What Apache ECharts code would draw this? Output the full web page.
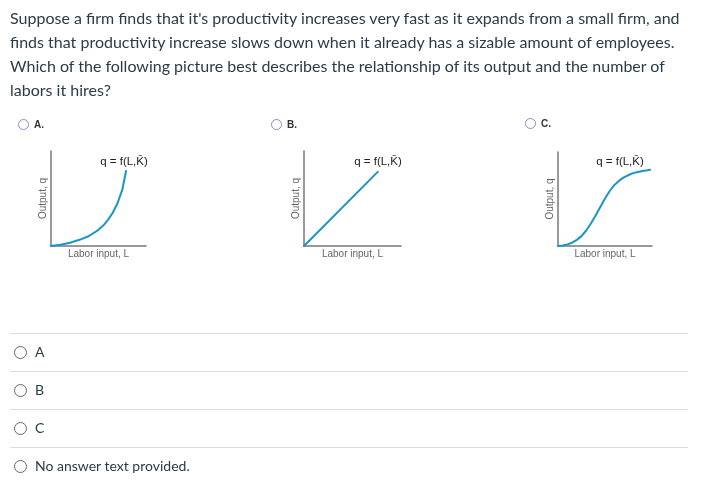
<!DOCTYPE html>
<html>
<head>
<meta charset="utf-8">
<script src="https://cdn.jsdelivr.net/npm/echarts@6/dist/echarts.min.js"></script>
<style>
  html, body { margin:0; padding:0; background:#fff; width:707px; height:493px; overflow:hidden; }
  #chart { position:absolute; left:0; top:0; width:707px; height:493px; }
  .q { position:absolute; left:10px; top:6px; width:697px; font-family:Lato, "Noto Sans", sans-serif; font-size:16px; line-height:24px; color:#2d3b45; }
  .q div { white-space:nowrap; }
  .radio { position:absolute; box-sizing:border-box; border-radius:50%; background:#fff; }
  .top-radio { width:11px; height:11px; border:1.3px solid #8a8ad6; }
  .top-lbl { position:absolute; font-family:Arial, "Liberation Sans", sans-serif; font-size:10px; font-weight:bold; color:#333; }
  .opt-radio { width:13px; height:13px; border:1px solid #666; }
  .opt-lbl { position:absolute; font-family:Lato, "Noto Sans", sans-serif; font-size:14px; color:#2d3b45; line-height:18px; }
  .sep { position:absolute; left:10px; width:678px; height:1px; background:#dcdcdc; }
</style>
</head>
<body>
<div id="chart"></div>
<div class="q">
  <div>Suppose a firm finds that it's productivity increases very fast as it expands from a small firm, and</div>
  <div>finds that productivity increase slows down when it already has a sizable amount of employees.</div>
  <div>Which of the following picture best describes the relationship of its output and the number of</div>
  <div>labors it hires?</div>
</div>

<div class="radio top-radio" style="left:18px;top:119px"></div><div class="top-lbl" style="left:34px;top:119px">A.</div>
<div class="radio top-radio" style="left:271px;top:119px"></div><div class="top-lbl" style="left:287px;top:119px">B.</div>
<div class="radio top-radio" style="left:525px;top:118px"></div><div class="top-lbl" style="left:541px;top:118px">C.</div>

<div class="sep" style="top:333px"></div>
<div class="sep" style="top:371px"></div>
<div class="sep" style="top:409px"></div>
<div class="sep" style="top:447px"></div>

<div class="radio opt-radio" style="left:14px;top:346px"></div><div class="opt-lbl" style="left:35px;top:343px">A</div>
<div class="radio opt-radio" style="left:14px;top:384px"></div><div class="opt-lbl" style="left:35px;top:381px">B</div>
<div class="radio opt-radio" style="left:14px;top:422px"></div><div class="opt-lbl" style="left:35px;top:419px">C</div>
<div class="radio opt-radio" style="left:14px;top:460px"></div><div class="opt-lbl" style="left:35px;top:457px">No answer text provided.</div>

<script>
// Data (axis units 0..100)
const curveA_L = [0, 10, 20, 30, 40, 50, 55, 60, 65, 70, 75, 79];
const curveA_q = [0, 1.3, 3.5, 6.5, 10.5, 17, 21.5, 27.5, 35, 45, 59, 79];
const curveB_L = [0, 76];
const curveB_q = [0, 78];
const curveC_L = [0, 5, 10, 15, 20, 25, 30, 35, 40, 45, 50, 55, 60, 65, 70, 75, 80, 85, 90, 95, 98];
const curveC_q = [0, 0.5, 1.7, 3.5, 6.5, 10.5, 16.5, 24, 32.5, 41.5, 50.5, 58.5, 65, 69.5, 73, 75.5, 77.5, 78.8, 79.8, 80.5, 81];
const curveLabel = 'q = f(L,K\u0304)';
const xName = 'Labor input, L';
const yName = 'Output, q';

const pairs = (xs, ys) => xs.map((x, i) => [x, ys[i]]);
const grids = [
  { left: 51, top: 151, width: 95, height: 95 },
  { left: 304, top: 151, width: 97, height: 95 },
  { left: 558, top: 152, width: 94, height: 94 }
];
const axisLine = { show: true, lineStyle: { color: '#777', width: 1.5 } };
const nameStyle = { fontFamily: 'Arial, "Liberation Sans", sans-serif', fontSize: 10, color: '#666' };
const xAxes = grids.map((g, i) => ({
  type: 'value', gridIndex: i, min: 0, max: 100,
  axisLine: axisLine, axisTick: { show: false }, axisLabel: { show: false }, splitLine: { show: false },
  name: xName, nameLocation: 'middle', nameGap: 3, nameTextStyle: nameStyle
}));
const yAxes = grids.map((g, i) => ({
  type: 'value', gridIndex: i, min: 0, max: 100,
  axisLine: axisLine, axisTick: { show: false }, axisLabel: { show: false }, splitLine: { show: false },
  name: yName, nameLocation: 'middle', nameGap: 3, nameRotate: 90, nameTextStyle: nameStyle
}));
const datasets = [pairs(curveA_L, curveA_q), pairs(curveB_L, curveB_q), pairs(curveC_L, curveC_q)];
const series = datasets.map((d, i) => ({
  type: 'line', xAxisIndex: i, yAxisIndex: i, data: d,
  smooth: false, showSymbol: false,
  lineStyle: { color: '#1a96c4', width: 2, join: 'round', cap: 'round' }, silent: true, animation: false
}));
const labelPos = [[124, 162], [378, 162], [620, 162]];
const graphic = labelPos.map(p => ({
  type: 'text', x: p[0], y: p[1],
  style: { text: curveLabel, font: '11.5px Arial, "Liberation Sans", sans-serif', fill: '#222', align: 'center', verticalAlign: 'middle' }
}));

const chart = echarts.init(document.getElementById('chart'), null, { renderer: 'canvas' });
chart.setOption({
  animation: false,
  grid: grids,
  xAxis: xAxes,
  yAxis: yAxes,
  series: series,
  graphic: graphic
});
</script>
</body>
</html>
